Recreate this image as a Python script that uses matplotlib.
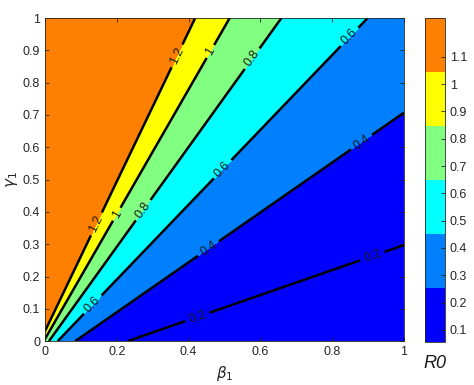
import numpy as np
import matplotlib
matplotlib.use("Agg")
import matplotlib.pyplot as plt
from matplotlib.colors import ListedColormap, Normalize
from matplotlib.cm import ScalarMappable

plt.rcParams['font.family'] = ['Liberation Sans', 'DejaVu Sans']
plt.rcParams['mathtext.fontset'] = 'dejavusans'

# R0 surface: R0 = (gamma1 + c) / (a*beta1 + d)
a_coef = 1.93
c_coef = 0.113
d_coef = 0.12
beta1 = np.linspace(0, 1, 301)
gamma1 = np.linspace(0, 1, 301)

levels = [0.2, 0.4, 0.6, 0.8, 1.0, 1.2]
cbar_lim = [0.056, 1.243]
cbar_ticks = [0.1, 0.2, 0.3, 0.4, 0.5, 0.6, 0.7, 0.8, 0.9, 1.0, 1.1]
axis_ticks_x = [0, 0.2, 0.4, 0.6, 0.8, 1]
axis_ticks_y = [0, 0.1, 0.2, 0.3, 0.4, 0.5, 0.6, 0.7, 0.8, 0.9, 1]

# jet(6)
jet6 = [(0, 0, 1), (0, 0.5, 1), (0, 1, 1), (0.5, 1, 0.5), (1, 1, 0), (1, 0.5, 0)]

label_pos = [(0.148, 0.36), (0.370, 0.882),
             (0.203, 0.391), (0.465, 0.894),
             (0.279, 0.401), (0.579, 0.873),
             (0.134, 0.112), (0.496, 0.531), (0.855, 0.935),
             (0.454, 0.289), (0.883, 0.615),
             (0.426, 0.071), (0.914, 0.258)]

B, G = np.meshgrid(beta1, gamma1)
R0 = (G + c_coef) / (a_coef * B + d_coef)

cmap = ListedColormap(jet6)
norm = Normalize(cbar_lim[0], cbar_lim[1])

fig = plt.figure(figsize=(4.74, 3.85), dpi=100)
ax = fig.add_axes([0.095, 0.114, 0.757, 0.839])
cax = fig.add_axes([0.897, 0.112, 0.042, 0.842])

fill_levels = [R0.min() - 1e-6] + levels + [R0.max() + 1e-6]
fill_colors = [cmap(norm(v)) for v in [cbar_lim[0]] + levels]
ax.contourf(B, G, R0, levels=fill_levels, colors=fill_colors)
cs = ax.contour(B, G, R0, levels=levels, colors='k', linewidths=1.8)
labels = ax.clabel(cs, manual=label_pos, inline=True, fmt='%g', fontsize=9,
                   inline_spacing=4)
for t in labels:
    t.set_color('#1a1a1a')

ax.set_xlim(0, 1)
ax.set_ylim(0, 1)
ax.set_xticks(axis_ticks_x)
ax.set_xticklabels(['0', '0.2', '0.4', '0.6', '0.8', '1'])
ax.set_yticks(axis_ticks_y)
ax.set_yticklabels(['0', '0.1', '0.2', '0.3', '0.4', '0.5', '0.6', '0.7', '0.8', '0.9', '1'])
ax.tick_params(direction='in', top=True, right=True, labelsize=9,
               colors='#262626', length=3, width=0.6)
for s in ax.spines.values():
    s.set_color('#262626')
    s.set_linewidth(0.6)
ax.set_xlabel(r'$\beta_1$', fontsize=11, color='#262626', labelpad=4)
ax.set_ylabel(r'$\gamma_1$', fontsize=11, color='#262626', labelpad=2)

sm = ScalarMappable(norm=norm, cmap=cmap)
cb = fig.colorbar(sm, cax=cax, ticks=cbar_ticks)
cb.ax.set_yticklabels(['0.1', '0.2', '0.3', '0.4', '0.5', '0.6', '0.7', '0.8', '0.9', '1', '1.1'])
cb.ax.tick_params(direction='in', labelsize=9, colors='#262626', length=3, width=0.6)
cb.outline.set_edgecolor('#262626')
cb.outline.set_linewidth(0.6)
cax.text(0.5, -0.04, 'R0', transform=cax.transAxes, ha='center', va='top',
         fontsize=13, style='italic', color='#1a1a1a')

fig.savefig('out.png', dpi=100)
